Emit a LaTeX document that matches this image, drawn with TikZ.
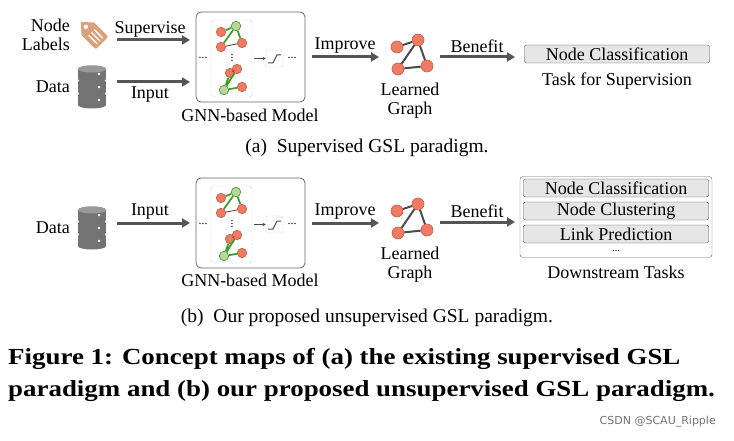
\documentclass[tikz,border=0pt]{standalone}
\usepackage{fontspec}
\setmainfont{Liberation Serif}
\newfontfamily\wm{DejaVu Sans}
\usetikzlibrary{arrows.meta}
\definecolor{arr}{HTML}{555555}
\definecolor{rn}{HTML}{EE7B62}
\definecolor{rnb}{HTML}{C85A44}
\definecolor{gn}{HTML}{B5D99C}
\definecolor{gnb}{HTML}{4E8A2E}
\definecolor{tag}{HTML}{D9A07A}
\definecolor{boxf}{HTML}{E6E6E6}
\tikzset{
 lbl/.style={font=\fontsize{18}{19}\selectfont, inner sep=0pt},
 big/.style={-{Triangle[length=8pt,width=9pt]}, line width=3pt, arr},
 rnode/.style={circle, fill=rn, draw=rnb, line width=0.6pt, minimum size=9.5pt, inner sep=0pt},
 gnode/.style={circle, fill=gn, draw=gnb, line width=0.6pt, minimum size=9.5pt, inner sep=0pt},
 bignode/.style={circle, fill=rn, draw=rnb, line width=0.6pt, minimum size=12pt, inner sep=0pt},
 gedge/.style={gnb!80!green, line width=1.8pt},
 tedge/.style={black!75, line width=0.8pt},
 ledge/.style={black!70, line width=2pt},
 task/.style={draw=black!70, fill=boxf, rounded corners=2pt, minimum width=185pt, minimum height=18pt, inner sep=0pt, font=\fontsize{18}{19}\selectfont},
 subcap/.style={font=\fontsize{19.5}{21}\selectfont, inner sep=0pt},
}
\newcommand{\dbicon}[2]{%
 \begin{scope}[shift={(#1,#2)}]
 \foreach \yy in {-13,0,13}{
  \fill[black!55] (-14,\yy-5) rectangle (14,\yy+5);
  \fill[black!55] (0,\yy-5) ellipse (14 and 3.5);
  \fill[black!55] (0,\yy+5) ellipse (14 and 3.5);
  \fill[white] (7,\yy) circle (1.3);
 }
 \fill[black!40] (0,-18) ellipse (14 and 3.5);
 \end{scope}}
\newcommand{\gnnbox}[2]{%
 \begin{scope}[shift={(0,#2)}]
 \node[draw=black!60, line width=0.8pt, rounded corners=5pt, minimum width=109pt, minimum height=90pt, inner sep=0pt] (#1) at (250.5,57) {};
 \draw[black!50, densely dotted, rounded corners=3pt] (211,20) rectangle (252,97);
 \node[rnode] (#1a1) at (221,32) {};
 \node[gnode] (#1a2) at (236,26) {};
 \node[rnode] (#1a3) at (221,47) {};
 \node[rnode] (#1a4) at (242,43) {};
 \draw[gedge] (#1a2)--(#1a1) (#1a2)--(#1a3) (#1a2)--(#1a4);
 \draw[tedge] (#1a3)--(#1a4);
 \node[rnode] (#1b1) at (230,73) {};
 \node[rnode] (#1b2) at (237,69) {};
 \node[rnode] (#1b3) at (242,87) {};
 \node[gnode] (#1b4) at (224,90) {};
 \draw[gedge] (#1b4)--(#1b1) (#1b4)--(#1b3) (#1b4)--(#1b2);
 \draw[tedge] (#1b1)--(#1b2);
 \node[lbl, font=\fontsize{12}{12}\selectfont] (#1d1) at (203,58) {...};
 \node[lbl, font=\fontsize{12}{12}\selectfont] (#1d2) at (292,58) {...};
 \node[lbl, font=\fontsize{12}{12}\selectfont, rotate=90] (#1v) at (232,58) {...};
 \node[draw=black!50, densely dotted, rounded corners=2pt, minimum width=17pt, minimum height=17pt, inner sep=0pt] (#1r) at (274.5,58.5) {};
 \draw[black!70, line width=1pt] (268,63) -- (273,63) -- (277,55) -- (281,55);
 \coordinate (#1s) at (254,58.5);
 \draw[-{Triangle[length=3pt,width=3pt]}, black!70, line width=0.8pt] (#1s) -- (#1r.west);
 \end{scope}}
\newcommand{\lgraph}[2]{%
 \begin{scope}[shift={(0,#2)}]
 \node[bignode] (#11) at (397,47) {};
 \node[bignode] (#12) at (418,40) {};
 \node[bignode] (#13) at (427,66) {};
 \node[bignode] (#14) at (398,69) {};
 \draw[ledge] (#11)--(#12) (#12)--(#14) (#12)--(#13) (#13)--(#14);
 \end{scope}}
\begin{document}
\begin{tikzpicture}[x=1pt,y=-1pt]
\useasboundingbox (0,0) rectangle (734,441);
% ---------- (a)
\node[lbl, align=right, anchor=east] (nl) at (70,35) {Node\\Labels};
\begin{scope}[shift={(95,36)}, rotate=-45]
 \fill[tag, rounded corners=2pt] (-11,-9) rectangle (10,9);
 \fill[tag] (-10,-9) -- (-20,0) -- (-10,9) -- cycle;
 \fill[white] (-13,0) circle (2.2);
 \foreach \yy in {-4,0,4} \draw[white, line width=1.3pt] (-5,\yy) -- (7,\yy);
\end{scope}
\node[lbl, anchor=east] (d1) at (70,87) {Data};
\dbicon{92}{87}
\gnnbox{ga}{0}
\coordinate (s1) at (117,40); \coordinate (s2) at (190,40);
\draw[big] (s1) -- (s2);
\node[lbl] (sup) at (150,29) {Supervise};
\coordinate (i1) at (117,82); \coordinate (i2) at (190,82);
\draw[big] (i1) -- (i2);
\node[lbl] (inp) at (150,95) {Input};
\node[lbl] (gma) at (250,115) {GNN-based Model};
\coordinate (m1) at (312,57); \coordinate (m2) at (379,57);
\draw[big] (m1) -- (m2);
\node[lbl] (imp) at (345,46) {Improve};
\lgraph{la}{0}
\node[lbl, align=center] (lga) at (410,101) {Learned\\Graph};
\coordinate (b1) at (440,57); \coordinate (b2) at (515,57);
\draw[big] (b1) -- (b2);
\node[lbl] (ben) at (477,46) {Benefit};
\node[task] (nca) at (617,54) {Node Classification};
\node[lbl] (tfs) at (617,81) {Task for Supervision};
\node[subcap] (capa) at (367,148) {(a)\ \ Supervised GSL paradigm.};
% ---------- (b)
\node[lbl, anchor=east] (d2) at (70,228) {Data};
\dbicon{92}{228}
\gnnbox{gb}{166}
\coordinate (i3) at (117,223); \coordinate (i4) at (190,223);
\draw[big] (i3) -- (i4);
\node[lbl] (inp2) at (150,212) {Input};
\node[lbl] (gmb) at (250,280) {GNN-based Model};
\coordinate (m3) at (312,223); \coordinate (m4) at (379,223);
\draw[big] (m3) -- (m4);
\node[lbl] (imp2) at (345,212) {Improve};
\lgraph{lb}{164}
\node[lbl, align=center] (lgb) at (410,265) {Learned\\Graph};
\coordinate (b3) at (440,222); \coordinate (b4) at (515,222);
\draw[big] (b3) -- (b4);
\node[lbl] (ben2) at (477,211) {Benefit};
\node[draw=black!60, rounded corners=3pt, minimum width=192pt, minimum height=81pt, inner sep=0pt] (ds) at (616,217) {};
\node[task] (t1) at (616,188) {Node Classification};
\node[task] (t2) at (616,211) {Node Clustering};
\node[task] (t3) at (616,234) {Link Prediction};
\node[lbl, font=\fontsize{10}{10}\selectfont] (t4) at (616,251.5) {...};
\node[lbl] (dst) at (616,272) {Downstream Tasks};
\node[subcap] (capb) at (367,318) {(b)\ \ Our proposed unsupervised GSL paradigm.};
% ---------- figure caption
\node[anchor=west, inner sep=0pt, align=left, font=\bfseries\fontsize{23}{32}\selectfont] (fig) at (8,375) {\scalebox{1.17}[1]{Figure 1: Concept maps of (a) the existing supervised GSL}\\\scalebox{1.17}[1]{paradigm and (b) our proposed unsupervised GSL paradigm.}};
\node[anchor=east, inner sep=0pt, text=black!55, font=\wm\fontsize{11}{12}\selectfont] (wm) at (716,422) {CSDN @SCAU\_Ripple};
\end{tikzpicture}
\end{document}
